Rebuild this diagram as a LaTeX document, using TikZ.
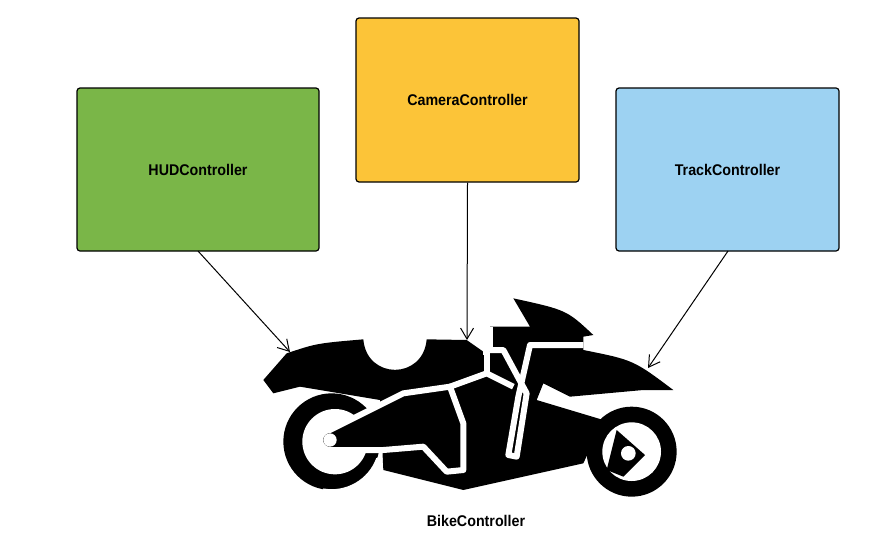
\documentclass[tikz,border=0pt]{standalone}
\usepackage{fontspec}
\setmainfont{Liberation Sans}
\usetikzlibrary{arrows.meta}
\definecolor{hud}{HTML}{7AB648}
\definecolor{cam}{HTML}{FCC438}
\definecolor{trk}{HTML}{9DD2F2}
\begin{document}
\begin{tikzpicture}[x=1pt,y=-1pt,
  box/.style={draw=black,line width=1.2pt,rounded corners=3pt,font=\bfseries\fontsize{15.5}{18}\selectfont},
  arr/.style={line width=1pt,-{Straight Barb[length=11pt,width=13pt,line width=1pt]}},
  wl/.style={white,line width=2.2pt,line join=round}]
\useasboundingbox (0,0) rectangle (885,541);
\node[box,fill=hud,minimum width=242pt,minimum height=163pt] (hud) at (198,169.5) {\scalebox{0.92}[1]{HUDController}};
\node[box,fill=cam,minimum width=223pt,minimum height=164pt] (cam) at (467.5,100) {\scalebox{0.92}[1]{CameraController}};
\node[box,fill=trk,minimum width=223pt,minimum height=163pt] (trk) at (727.5,169.5) {\scalebox{0.92}[1]{TrackController}};
\coordinate (ha) at (290,352);
\coordinate (ca) at (467,340);
\coordinate (ta) at (648,368);
\begin{scope}[shift={(250,290)},scale=1/3]
 \fill[black] (40,270) -- (110,190) .. controls (200,160) .. (340,148)
   .. controls (350,270) and (520,270) .. (530,148) -- (650,150) -- (700,185) -- (720,185)
   -- (720,110) -- (840,110) -- (790,25) .. controls (950,60) .. (1030,135) -- (1000,140) -- (1000,180)
   .. controls (1150,210) .. (1270,300) -- (1180,300) -- (960,320) -- (880,280) -- (860,330)
   -- (1060,390) -- (1000,520) -- (640,600) -- (400,540) -- (390,330) -- (150,290) -- (70,310) -- cycle;
 \fill[black] (245,455) circle (145);
 \draw[white,line width=3pt] (245,455) ++(100:147) arc (100:20:147);
 \fill[white] (255,455) circle (98);
 \fill[black] (1145,485) circle (135);
 \fill[white] (1145,485) circle (88);
 \fill[black] (1100,420) -- (1185,495) -- (1120,560) -- (1070,540) -- cycle;
 \fill[white] (1135,490) circle (22);
 \filldraw[black,draw=white,line width=6pt,line join=round] (240,420) -- (460,310) -- (600,290) -- (640,400) -- (640,540) -- (590,545) -- (520,470) -- (400,480) -- (240,480) arc (90:270:30) -- cycle;
 \fill[white] (240,450) circle (20);
 \draw[white,line width=6pt,line join=round] (600,290) -- (710,250) -- (790,290);
 \draw[white,line width=6pt,line join=round] (700,185) -- (710,185) -- (710,250);
 \draw[white,line width=6pt,line join=round] (720,180) -- (760,180) -- (830,310) -- (800,500) -- (775,495) -- (805,320) -- (840,165) -- (1000,165);
 \draw[white,line width=6pt,line join=round] (720,110) -- (720,180);
\end{scope}
\node[font=\bfseries\fontsize{15.5}{18}\selectfont] (bike) at (476,521) {\scalebox{0.92}[1]{BikeController}};
\draw[arr] (198,251) -- (ha);
\draw[arr] (cam.south) -- (ca);
\draw[arr] (728,251) -- (ta);
\end{tikzpicture}
\end{document}
